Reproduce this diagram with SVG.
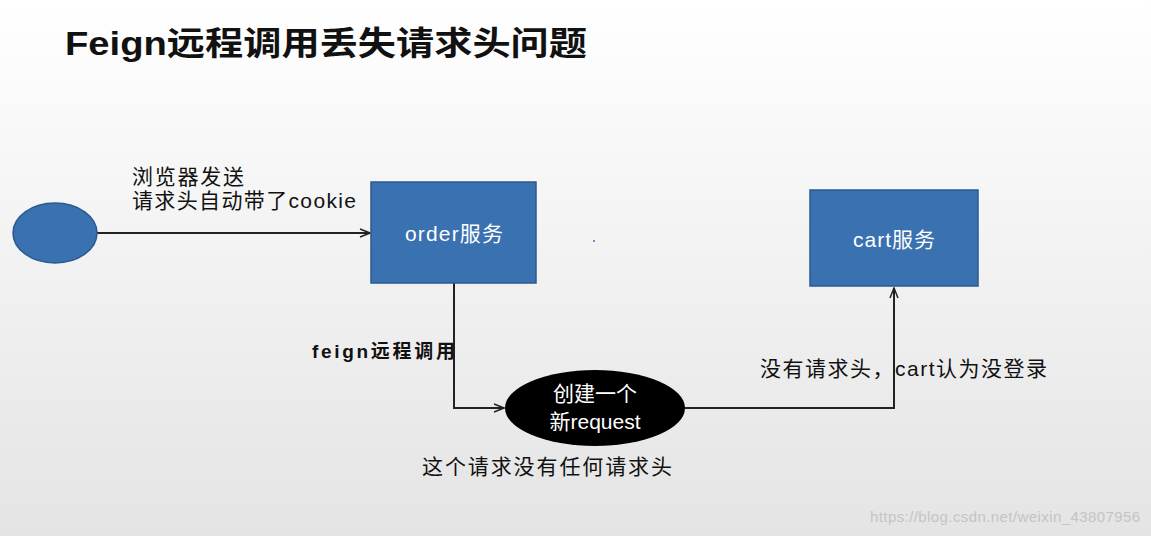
<svg xmlns="http://www.w3.org/2000/svg" width="1151" height="536" viewBox="0 0 1151 536">
<defs>
<linearGradient id="bg" x1="0" y1="0" x2="0" y2="1"><stop offset="0" stop-color="#ffffff"/><stop offset="1" stop-color="#e4e4e4"/></linearGradient>
<marker id="ah" markerWidth="12" markerHeight="10" refX="11" refY="5" orient="auto" markerUnits="userSpaceOnUse"><path d="M1,1 L11,5 L1,9" fill="none" stroke="#222" stroke-width="1.5"/></marker>
</defs>
<style>
text{font-family:"Liberation Sans","Noto Sans CJK SC",sans-serif;fill:#111}
.lbl{font-size:21px}
.box{fill:#3a71b0;stroke:#2c5a8f;stroke-width:1.5}
.w{fill:#fff;font-size:21px;text-anchor:middle}
.con{fill:none;stroke:#222;stroke-width:2}
</style>
<rect width="1151" height="536" fill="url(#bg)"/>
<text x="65" y="55" font-size="33" font-weight="bold" textLength="522" lengthAdjust="spacingAndGlyphs">Feign远程调用丢失请求头问题</text>
<g id="connectors">
<line class="con" x1="97" y1="233" x2="370" y2="233" marker-end="url(#ah)"/>
<polyline class="con" points="454,283 454,408 504,408" marker-end="url(#ah)"/>
<polyline class="con" points="685,408 894,408 894,288" marker-end="url(#ah)"/>
</g>
<g id="start"><ellipse cx="55" cy="233" rx="42" ry="30" fill="#3a71b0" stroke="#2c5a8f" stroke-width="1.5"/></g>
<g id="order"><rect class="box" x="371" y="182" width="165" height="101"/><text class="w" x="454" y="241" textLength="98">order服务</text></g>
<g id="cart"><rect class="box" x="810" y="190" width="168" height="96"/><text class="w" x="894" y="247" textLength="82">cart服务</text></g>
<g id="newreq"><ellipse cx="595" cy="408" rx="90" ry="38" fill="#000"/><text class="w" x="595" y="401">创建一个</text><text class="w" x="595" y="429">新request</text></g>
<text class="lbl" x="132" y="184" textLength="112">浏览器发送</text>
<text class="lbl" x="132" y="208" textLength="224">请求头自动带了cookie</text>
<text x="312" y="358" font-size="19" font-weight="bold" textLength="143">feign远程调用</text>
<text class="lbl" x="760" y="376" textLength="287">没有请求头，cart认为没登录</text>
<text class="lbl" x="422" y="474" textLength="250">这个请求没有任何请求头</text>
<circle cx="594" cy="241" r="1" fill="#3a71b0"/>
<text x="870" y="522" font-size="15" style="fill:#c4c4c4" textLength="270">https://blog.csdn.net/weixin_43807956</text>
</svg>
